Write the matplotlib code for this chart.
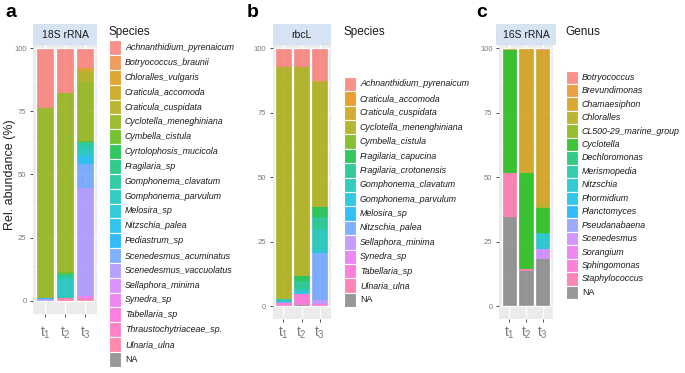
import numpy as np
import matplotlib.pyplot as plt
from matplotlib.patches import Rectangle
import matplotlib.transforms as mtransforms

W, H = 685, 373
plt.rcParams['font.family'] = ['Liberation Sans', 'DejaVu Sans']
plt.rcParams['mathtext.fontset'] = 'custom'
plt.rcParams['mathtext.rm'] = 'Liberation Sans'

time_labels = [r'$\mathregular{t_1}$', r'$\mathregular{t_2}$', r'$\mathregular{t_3}$']

# --- 18S rRNA (panel a), order = legend order, first one stacked on top ---
species_18s = ['Achnanthidium_pyrenaicum', 'Botryococcus_braunii', 'Chloralles_vulgaris',
               'Craticula_accomoda', 'Craticula_cuspidata', 'Cyclotella_meneghiniana',
               'Cymbella_cistula', 'Cyrtolophosis_mucicola', 'Fragilaria_sp',
               'Gomphonema_clavatum', 'Gomphonema_parvulum', 'Melosira_sp', 'Nitzschia_palea',
               'Pediastrum_sp', 'Scenedesmus_acuminatus', 'Scenedesmus_vaccuolatus',
               'Sellaphora_minima', 'Synedra_sp', 'Tabellaria_sp', 'Thraustochytriaceae_sp.',
               'Ulnaria_ulna', 'NA']
t1_18s = [23.6, 0, 0, 0, 0, 75.3, 0, 0, 0, 0, 0, 0, 0, 0.5, 0, 0.6, 0, 0, 0, 0, 0, 0]
t2_18s = [17.8, 0, 0, 0, 0, 70.6, 0.9, 0, 1.0, 1.0, 7.5, 0, 0, 0, 0, 0, 0, 0, 0, 0, 1.2, 0]
t3_18s = [7.8, 0, 0.8, 0.8, 3.9, 23.4, 0.5, 0, 0.5, 2.0, 2.0, 1.5, 2.8, 0, 9.2, 43.0, 0,
          0.9, 0, 0, 0.9, 0]

# --- rbcL (panel b) ---
species_rbcl = ['Achnanthidium_pyrenaicum', 'Craticula_accomoda', 'Craticula_cuspidata',
                'Cyclotella_menenghiniana', 'Cymbella_cistula', 'Fragilaria_capucina',
                'Fragilaria_crotonensis', 'Gomphonema_clavatum', 'Gomphonema_parvulum',
                'Melosira_sp', 'Nitzschia_palea', 'Sellaphora_minima', 'Synedra_sp',
                'Tabellaria_sp', 'Ulnaria_ulna', 'NA']
t1_rbcl = [7.2, 0, 0, 90.0, 0, 0, 0, 1.0, 0, 0, 0.6, 0, 0, 0.9, 0, 0.3]
t2_rbcl = [7.2, 0, 0, 80.9, 0, 2.0, 3.1, 1.0, 1.1, 0, 0, 0, 0, 4.3, 0, 0.4]
t3_rbcl = [12.7, 0, 0.6, 48.1, 0, 3.9, 4.7, 8.0, 1.2, 0, 18.1, 1.7, 0, 1.0, 0, 0]

# --- 16S rRNA (panel c) ---
genus_16s = ['Botryococcus', 'Brevundimonas', 'Chamaesiphon', 'Chloralles',
             'CL500-29_marine_group', 'Cyclotella', 'Dechloromonas', 'Merismopedia',
             'Nitzschia', 'Phormidium', 'Planctomyces', 'Pseudanabaena', 'Scenedesmus',
             'Sorangium', 'Sphingomonas', 'Staphylococcus', 'NA']
t1_16s = [0, 0.8, 0, 0, 0, 47.4, 0, 0, 0, 0, 0, 0, 0, 0, 0, 17.3, 34.5]
t2_16s = [0, 0.3, 47.9, 0, 0, 37.3, 0, 0, 0, 0, 0, 0, 0, 0, 0, 0.6, 13.9]
t3_16s = [0.8, 0, 59.7, 1.3, 0, 9.7, 0, 0.6, 5.5, 0, 0, 0.3, 3.8, 0, 0, 0, 18.3]


def hue_pal(n, l=65, c=100):
    # ggplot2 default discrete palette (HCL hues starting at 15 deg)
    cols = []
    for h in np.linspace(15, 375, n + 1)[:-1]:
        hr = np.deg2rad(h)
        U, V = c * np.cos(hr), c * np.sin(hr)
        Y = 100 * ((l + 16) / 116) ** 3
        u = U / (13 * l) + 0.1978398
        v = V / (13 * l) + 0.4683363
        X = 9 * Y * u / (4 * v)
        Z = -X / 3 - 5 * Y + 3 * Y / v
        X, Y, Z = X / 100, Y / 100, Z / 100
        rgb = [3.240479 * X - 1.537150 * Y - 0.498535 * Z,
               -0.969256 * X + 1.875992 * Y + 0.041556 * Z,
               0.055648 * X - 0.204043 * Y + 1.057311 * Z]
        rgb = [1.055 * x ** (1 / 2.4) - 0.055 if x > 0.00304 else 12.92 * x for x in rgb]
        cols.append(tuple(min(max(x, 0), 1) for x in rgb))
    return cols


fig = plt.figure(figsize=(W / 100, H / 100), dpi=100)
ALPHA = 0.8


def fx(x):
    return x / W


def fy(y):
    return 1 - y / H


def panel(box, strip_label, strip_pad, cats, series, title, leg_x, leg_y0, leg_step, letter, letter_x):
    left, right, top, bottom = box
    ax = fig.add_axes([fx(left), fy(bottom), fx(right - left), (bottom - top) / H])
    ax.set_facecolor('#EBEBEB')
    colors = hue_pal(len(cats) - 1) + ['#7F7F7F']
    x = np.arange(1, 4)
    base = np.zeros(3)
    for i in range(len(cats) - 1, -1, -1):
        h = np.array([s[i] for s in series])
        ax.bar(x, h, bottom=base, width=0.9, color=colors[i], alpha=ALPHA, linewidth=0, zorder=2)
        base += h
    ax.bar(x, base, width=0.9, facecolor='none', edgecolor='white', linewidth=0.9, zorder=3)
    ax.set_xlim(0.4, 3.6)
    ax.set_ylim(-5, 101.2)
    ax.set_yticks([0, 25, 50, 75, 100])
    ax.set_yticks([12.5, 37.5, 62.5, 87.5], minor=True)
    ax.set_xticks(x)
    ax.set_xticklabels([])
    ax.grid(True, which='major', color='white', linewidth=0.9, zorder=0)
    ax.grid(True, which='minor', axis='y', color='white', linewidth=0.45, zorder=0)
    ax.set_axisbelow(True)
    ax.tick_params(axis='y', which='major', length=2.2, width=0.6, color='#333333',
                   labelsize=5.5, labelcolor='#7a7a7a', pad=2.5)
    ax.tick_params(axis='x', which='major', length=2.2, width=0.6, color='#333333')
    ax.tick_params(which='minor', length=0)
    for s in ax.spines.values():
        s.set_visible(False)
    trans = mtransforms.blended_transform_factory(ax.transData, fig.transFigure)
    for xi, lab in zip(x, time_labels):
        ax.text(xi, fy(333), lab, transform=trans, ha='center', va='center',
                fontsize=10, color='#7a7a7a')
    # facet strip
    fig.patches.append(Rectangle((fx(left - strip_pad), fy(45)), fx(right - left + 2 * strip_pad),
                                 21 / H, transform=fig.transFigure, facecolor='#D5E3F3',
                                 edgecolor='none'))
    fig.text(fx((left + right) / 2), fy(34.5), strip_label, ha='center', va='center',
             fontsize=7.5, color='#1a1a1a')
    # legend
    fig.text(fx(leg_x), fy(32), title, ha='left', va='center', fontsize=8.5, color='#1a1a1a')
    for i, name in enumerate(cats):
        yc = leg_y0 + i * leg_step
        fig.patches.append(Rectangle((fx(leg_x), fy(yc + leg_step / 2)), fx(12.5), leg_step / H,
                                     transform=fig.transFigure, facecolor=colors[i],
                                     alpha=ALPHA, edgecolor='none'))
        fig.patches.append(Rectangle((fx(leg_x), fy(yc + leg_step / 2)), fx(12.5), leg_step / H,
                                     transform=fig.transFigure, facecolor='none',
                                     edgecolor='white', linewidth=0.8))
        fig.text(fx(leg_x + 16.5), fy(yc), name, ha='left', va='center', fontsize=6.4,
                 style='normal' if name == 'NA' else 'italic', color='#1a1a1a')
    fig.text(fx(letter_x), fy(16.7), letter, ha='left', va='baseline', fontsize=14,
             fontweight='bold', color='black')
    return ax


panel((33, 97, 45, 313.6), '18S rRNA', 0, species_18s, [t1_18s, t2_18s, t3_18s],
      'Species', 108.5, 47.7, 14.84, 'a', 5)
panel((272.5, 330.5, 45, 319.4), 'rbcL', 0, species_rbcl, [t1_rbcl, t2_rbcl, t3_rbcl],
      'Species', 343.5, 84, 14.4, 'b', 247)
panel((499, 553, 45, 319.4), '16S rRNA', 3, genus_16s, [t1_16s, t2_16s, t3_16s],
      'Genus', 565.5, 77.3, 13.44, 'c', 476)

fig.text(fx(10), fy(175), 'Rel. abundance (%)', rotation=90, ha='center', va='center',
         fontsize=9, color='#222222')

fig.savefig('out.png', dpi=100)
